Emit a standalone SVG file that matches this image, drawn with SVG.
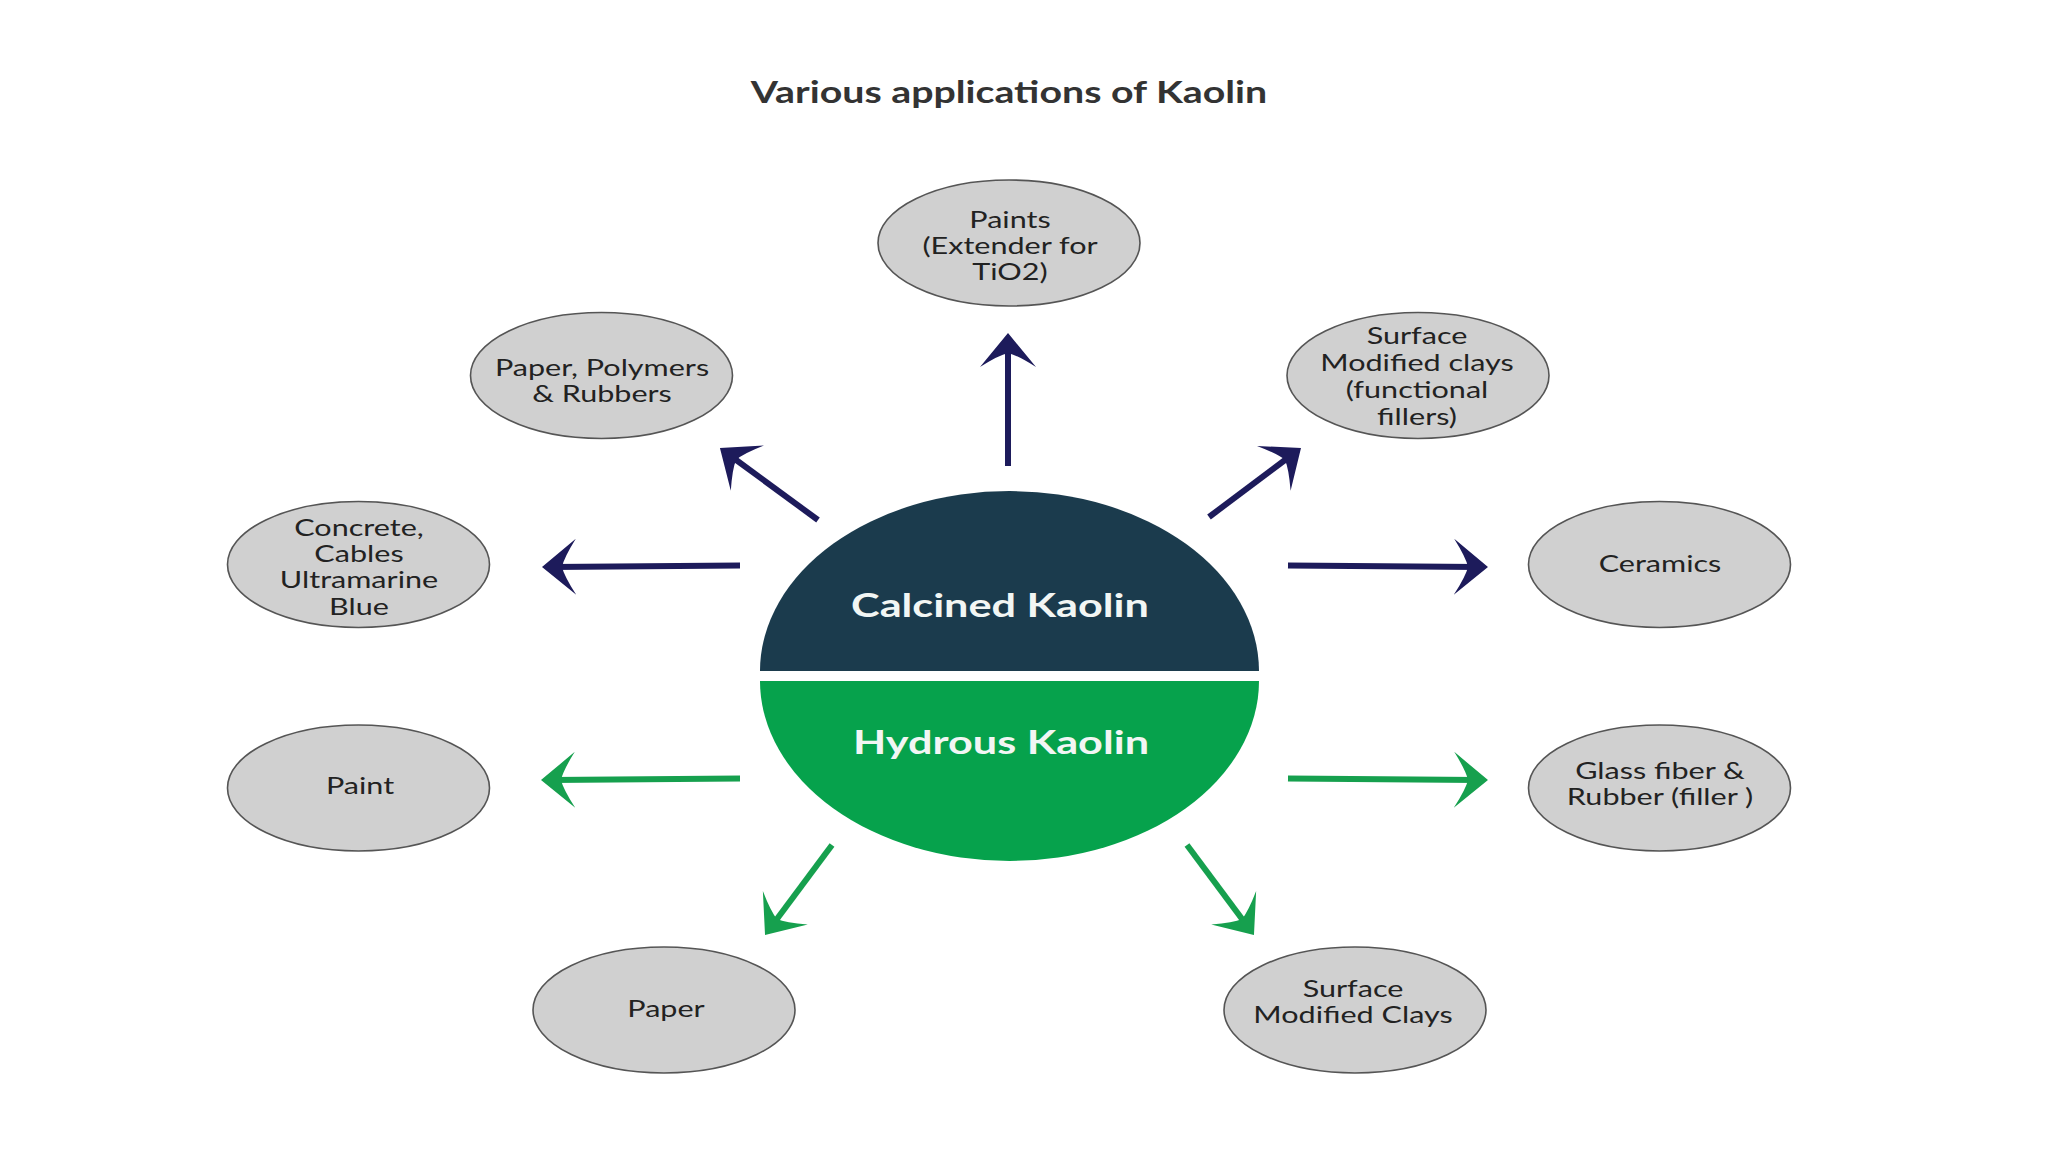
<svg xmlns="http://www.w3.org/2000/svg" width="2048" height="1152" viewBox="0 0 2048 1152">
  <style>
    .title { font-family: Lato, "Liberation Sans", sans-serif; font-weight: 700; font-size: 30px; fill: #333333; text-anchor: middle; }
    .hub { font-family: Lato, "Liberation Sans", sans-serif; font-weight: 700; font-size: 33px; fill: #f2f6f4; text-anchor: middle; }
    .node ellipse { fill: #d0d0d0; stroke: #555555; stroke-width: 1.6; }
    .node text { font-family: Lato, "Liberation Sans", sans-serif; font-size: 23.5px; fill: #222222; text-anchor: middle; }
    .navy { stroke: #1d1b5b; stroke-width: 6; fill: none; }
    .green { stroke: #16a04e; stroke-width: 6; fill: none; }
    .navy-line { marker-end: url(#headNavy); }
    .green-line { marker-end: url(#headGreen); }
  </style>
  <defs>
    <marker id="headNavy" markerUnits="userSpaceOnUse" viewBox="-30 -32 45 64" refX="0" refY="0" markerWidth="45" markerHeight="64" orient="auto">
      <path d="M 10 0 L -24 -28 Q -12 -9 -10 0 Q -12 9 -24 28 Z" fill="#1d1b5b"/>
    </marker>
    <marker id="headGreen" markerUnits="userSpaceOnUse" viewBox="-30 -32 45 64" refX="0" refY="0" markerWidth="45" markerHeight="64" orient="auto">
      <path d="M 10 0 L -24 -28 Q -12 -9 -10 0 Q -12 9 -24 28 Z" fill="#16a04e"/>
    </marker>
  </defs>
  <rect x="0" y="0" width="2048" height="1152" fill="#ffffff"/>

  <g transform="translate(1009 0) scale(1.31 1)">
    <text class="title" x="0" y="103">Various applications of Kaolin</text>
  </g>

  <g id="hub">
    <g id="calcined">
      <path d="M 760 671 A 249.5 180 0 0 1 1259 671 Z" fill="#1b3b4d"/>
      <text class="hub" transform="translate(1000 617) scale(1.31 1)">Calcined Kaolin</text>
    </g>
    <g id="hydrous">
      <path d="M 760 681 A 249.5 180 0 0 0 1259 681 Z" fill="#06a24c"/>
      <text class="hub" transform="translate(1001 754) scale(1.31 1)">Hydrous Kaolin</text>
    </g>
  </g>

  <g id="connectors">
    <line class="navy navy-line" x1="1008" y1="466" x2="1008" y2="343"/>
    <line class="navy navy-line" x1="818" y1="520" x2="728" y2="454"/>
    <line class="navy navy-line" x1="1209" y1="517" x2="1293" y2="454"/>
    <line class="navy navy-line" x1="740" y1="565.5" x2="552" y2="567"/>
    <line class="navy navy-line" x1="1288" y1="565.5" x2="1478" y2="567"/>
    <line class="green green-line" x1="740" y1="778.5" x2="551" y2="780"/>
    <line class="green green-line" x1="1288" y1="778.5" x2="1478" y2="780"/>
    <line class="green green-line" x1="832" y1="845" x2="771" y2="927"/>
    <line class="green green-line" x1="1187" y1="845" x2="1248" y2="927"/>
  </g>

  <g id="node-paints" class="node">
    <ellipse cx="1009" cy="243" rx="131" ry="63"/>
    <g transform="translate(1010 0) scale(1.3 1)">
      <text x="0" y="228.5">Paints</text>
      <text x="0" y="254.5">(Extender for</text>
      <text x="0" y="280.5">TiO2)</text>
    </g>
  </g>
  <g id="node-paper-polymers" class="node">
    <ellipse cx="601.5" cy="375.5" rx="131" ry="63"/>
    <g transform="translate(602 0) scale(1.3 1)">
      <text x="0" y="376">Paper, Polymers</text>
      <text x="0" y="402">&amp; Rubbers</text>
    </g>
  </g>
  <g id="node-surface-functional" class="node">
    <ellipse cx="1418" cy="375.5" rx="131" ry="63"/>
    <g transform="translate(1417 0) scale(1.3 1)">
      <text x="0" y="344.5">Surface</text>
      <text x="0" y="371.5">Modified clays</text>
      <text x="0" y="398">(functional</text>
      <text x="0" y="425">fillers)</text>
    </g>
  </g>
  <g id="node-concrete" class="node">
    <ellipse cx="358.5" cy="564.5" rx="131" ry="63"/>
    <g transform="translate(359 0) scale(1.3 1)">
      <text x="0" y="536.5">Concrete,</text>
      <text x="0" y="562.5">Cables</text>
      <text x="0" y="588.5">Ultramarine</text>
      <text x="0" y="615">Blue</text>
    </g>
  </g>
  <g id="node-ceramics" class="node">
    <ellipse cx="1659.5" cy="564.5" rx="131" ry="63"/>
    <g transform="translate(1660 0) scale(1.3 1)">
      <text x="0" y="572">Ceramics</text>
    </g>
  </g>
  <g id="node-paint" class="node">
    <ellipse cx="358.5" cy="788" rx="131" ry="63"/>
    <g transform="translate(360 0) scale(1.3 1)">
      <text x="0" y="794">Paint</text>
    </g>
  </g>
  <g id="node-glass" class="node">
    <ellipse cx="1659.5" cy="788" rx="131" ry="63"/>
    <g transform="translate(1660 0) scale(1.3 1)">
      <text x="0" y="779.5">Glass fiber &amp;</text>
      <text x="0" y="805.5">Rubber (filler )</text>
    </g>
  </g>
  <g id="node-paper" class="node">
    <ellipse cx="664" cy="1010" rx="131" ry="63"/>
    <g transform="translate(666 0) scale(1.3 1)">
      <text x="0" y="1017">Paper</text>
    </g>
  </g>
  <g id="node-surface-clays" class="node">
    <ellipse cx="1355" cy="1010" rx="131" ry="63"/>
    <g transform="translate(1353 0) scale(1.3 1)">
      <text x="0" y="997.5">Surface</text>
      <text x="0" y="1023.5">Modified Clays</text>
    </g>
  </g>
</svg>
